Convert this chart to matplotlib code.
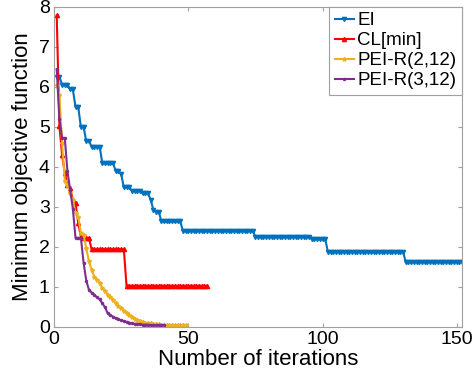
import numpy as np
import matplotlib
matplotlib.use('Agg')
import matplotlib.pyplot as plt

plt.rcParams['font.family'] = ['Liberation Sans', 'DejaVu Sans']

# EI: step levels and how many iterations each level lasts
ei_levels = [6.25, 6.05, 5.93, 5.50, 4.99, 4.64, 4.50, 4.08, 3.89, 3.82, 3.48, 3.40,
             3.33, 3.17, 2.92, 2.87, 2.63, 2.40, 2.25, 2.19, 1.87, 1.61]
ei_counts = [2, 3, 2, 2, 2, 2, 4, 5, 2, 1, 3, 4,
             3, 1, 1, 2, 8, 27, 21, 6, 29, 22]

cl_min = [7.78, 5.02, 4.29, 3.85, 3.54, 3.46, 3.17, 3.10, 2.59, 2.25,
          2.22, 2.22, 2.22] + [1.93] * 13 + [1.02] * 31

pei_2_12 = [6.03, 5.80, 4.60, 3.65, 3.55, 3.33, 3.17, 2.83, 2.75, 2.33,
            2.28, 1.96, 1.63, 1.42, 1.25, 1.17, 1.08, 0.97, 0.88, 0.80,
            0.75, 0.66, 0.58, 0.52, 0.46, 0.40, 0.33, 0.29, 0.23, 0.20,
            0.17, 0.15, 0.12, 0.10, 0.09, 0.08, 0.07, 0.07, 0.07, 0.05,
            0.05, 0.04, 0.04, 0.04, 0.03, 0.03, 0.03, 0.03, 0.03]

pei_3_12 = [6.44, 5.20, 4.72, 4.72, 3.88, 3.42, 2.95, 2.22, 2.22, 2.22,
            1.60, 1.15, 0.92, 0.85, 0.80, 0.73, 0.68, 0.58, 0.48, 0.33,
            0.28, 0.25, 0.21, 0.18, 0.16, 0.14, 0.12, 0.10, 0.08, 0.07,
            0.07, 0.06, 0.05, 0.05, 0.05, 0.04, 0.04, 0.04, 0.04, 0.04, 0.04]

ei = np.repeat(ei_levels, ei_counts)

fig = plt.figure(figsize=(4.74, 3.82), dpi=100)
ax = fig.add_axes([0.114, 0.145, 0.861, 0.8375])

ax.plot(np.arange(1, len(ei) + 1), ei, color='#0072BD', marker='v', markersize=3,
        linewidth=1.5, label='EI')
ax.plot(np.arange(1, len(cl_min) + 1), cl_min, color='#FF0000', marker='^', markersize=3,
        linewidth=1.5, label='CL[min]')
ax.plot(np.arange(1, len(pei_2_12) + 1), pei_2_12, color='#EDB120', marker='*', markersize=3,
        linewidth=1.5, label='PEI-R(2,12)')
ax.plot(np.arange(1, len(pei_3_12) + 1), pei_3_12, color='#7E2F8E', marker='.', markersize=3,
        linewidth=1.5, label='PEI-R(3,12)')

ax.set_xlim(0, 152)
ax.set_ylim(0, 8)
ax.set_xticks([0, 50, 100, 150])
ax.set_yticks(range(0, 9))
ax.tick_params(direction='in', length=3, labelsize=14, top=True, right=True,
               color='#a0a0a0', pad=3)
for s in ax.spines.values():
    s.set_color('#a0a0a0')

ax.set_xlabel('Number of iterations', fontsize=16, labelpad=1)
ax.set_ylabel('Minimum objective function', fontsize=16, labelpad=4)

leg = ax.legend(loc='upper right', borderaxespad=0, fontsize=13.5, handlelength=1.0,
                handletextpad=0.2, labelspacing=0.15, borderpad=0.3, fancybox=False,
                framealpha=1)
leg.get_frame().set_edgecolor('#a0a0a0')
leg.get_frame().set_linewidth(0.8)

fig.savefig('out.png', dpi=100)
